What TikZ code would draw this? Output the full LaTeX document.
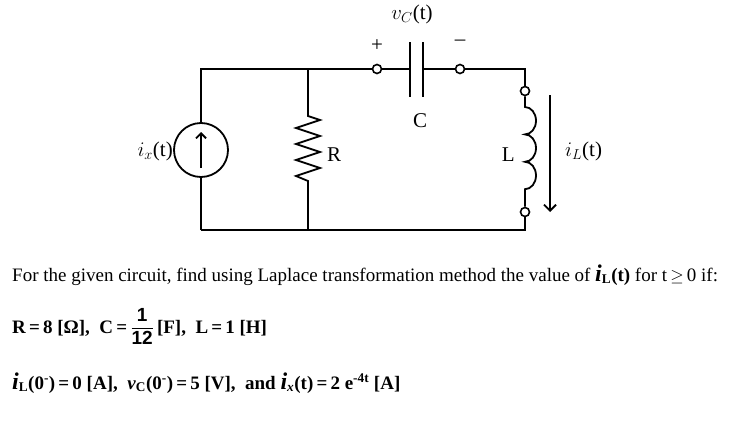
\documentclass[tikz,border=0pt]{standalone}
\usepackage{amsmath}
\usepackage{fontspec}
\setmainfont{Liberation Serif}
\newfontfamily\arialf{Liberation Sans}
\usetikzlibrary{arrows.meta,positioning}

\begin{document}
\begin{tikzpicture}[x=1pt, y=-1pt,
    wire/.style={line width=1.8pt, black},
    term/.style={circle, draw, line width=1.6pt, fill=white, inner sep=0pt, minimum size=9pt},
    lbl/.style={font=\fontsize{21}{24}\selectfont, inner sep=1pt},
    txt/.style={font=\fontsize{19}{22}\selectfont, anchor=base west, inner sep=0pt}]
    \useasboundingbox (0,0) rectangle (731,423);

    % corners and junctions
    \coordinate (tl) at (201,69);
    \coordinate (bl) at (201,230);
    \coordinate (tm) at (308,69);
    \coordinate (bm) at (308,230);
    \coordinate (tr) at (525,69);
    \coordinate (br) at (525,230);
    \node[circle, draw, line width=1.8pt, minimum size=54pt, inner sep=0pt] (src) at (201,150) {};
    \node[term] (cp) at (377,69) {};
    \node[term] (cm) at (460,69) {};
    \node[term] (lt) at (525,91) {};
    \node[term] (lb) at (525,212) {};

    \draw[wire] (bl) -- (src.south) (src.north) -- (tl) -- (cp);
    \draw[wire, -{Straight Barb[length=5pt]}] (201,168) -- (201,132);
    \draw[wire] (bl) -- (br) -- (lb);
    \draw[wire] (cm) -- (tr) -- (lt);
    % capacitor
    \draw[wire] (cp) -- (410,69) (410,42) -- (410,97) (423,42) -- (423,97) (423,69) -- (cm);
    % resistor
    \draw[wire] (tm) -- (308,116) -- (320,120) -- (296,128) -- (320,136) -- (296,144)
        -- (320,152) -- (296,160) -- (320,168) -- (296,176) -- (308,181) -- (bm);
    % inductor
    \draw[wire] (lt) -- (525,107)
        arc (90:-90:11pt and 13.7pt) arc (90:-90:11pt and 13.7pt) arc (90:-90:11pt and 13.7pt)
        -- (lb);
    \draw[wire, -{Straight Barb[length=6pt]}] (550,95) -- (550,212);

    \node[lbl] (vc) at (412,14) {$v_C$(t)};
    \node[lbl] (plus) at (377,46) {+};
    \node[lbl] (minus) at (460,43) {\textendash};
    \node[lbl] (clbl) at (420,121) {C};
    \node[lbl, anchor=west] (rlbl) at (326,155) {R};
    \node[lbl, anchor=east] (llbl) at (516,155) {L};
    \node[lbl, anchor=west] (il) at (564,151) {$i_L$(t)};
    \node[lbl, anchor=east] (ix) at (174,151) {$i_x$(t)};

    \node[txt] (q1) at (12,281) {For the given circuit, find using Laplace transformation method the value of \textbf{\fontsize{24}{24}\selectfont\textit{i}}\textbf{\textsubscript{L}(t)} for t\,$\geq$\,0 if:};
    \node[txt] (q2) at (12,333) {\textbf{R\,=\,8 [Ω], \ C\,=\,$\dfrac{\text{\arialf\bfseries 1}}{\text{\arialf\bfseries 12}}$\,[F], \ L\,=\,1 [H]}};
    \node[txt] (q3) at (12,389) {\textbf{\fontsize{24}{24}\selectfont\textit{i}}\textbf{\textsubscript{L}(0\textsuperscript{-})\,=\,0 [A], \ \textit{v}\textsubscript{C}(0\textsuperscript{-})\,=\,5 [V], \ and \fontsize{24}{24}\selectfont\textit{i}\fontsize{19}{22}\selectfont\textsubscript{\textit{x}}(t)\,=\,2 e\textsuperscript{-4t} [A]}};
\end{tikzpicture}
\end{document}
